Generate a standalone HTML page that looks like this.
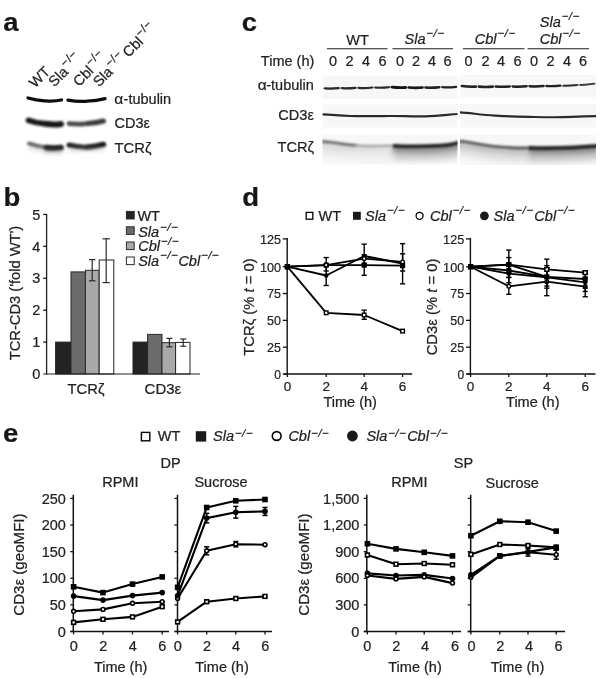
<!DOCTYPE html>
<html lang="en"><head><meta charset="utf-8"><title>Figure</title>
<style>
html,body{margin:0;padding:0;background:#fff;}
svg{display:block;}
text{font-family:"Liberation Sans",sans-serif;fill:#222;stroke:#222;stroke-width:0.22px;}
.pl{font-weight:bold;font-size:25px;fill:#161616;}
.it{font-style:italic;}
</style></head><body>
<svg width="600" height="678" viewBox="0 0 600 678">
<defs>
<filter id="b1" filterUnits="userSpaceOnUse" x="0" y="0" width="600" height="678"><feGaussianBlur stdDeviation="0.9"/></filter>
<filter id="b13" filterUnits="userSpaceOnUse" x="0" y="0" width="600" height="678"><feGaussianBlur stdDeviation="1.3 1.1"/></filter>
<filter id="b05" filterUnits="userSpaceOnUse" x="0" y="0" width="600" height="678"><feGaussianBlur stdDeviation="0.6"/></filter>
<filter id="b08" filterUnits="userSpaceOnUse" x="0" y="0" width="600" height="678"><feGaussianBlur stdDeviation="0.75"/></filter>
<filter id="b3" filterUnits="userSpaceOnUse" x="0" y="0" width="600" height="678"><feGaussianBlur stdDeviation="3"/></filter>
<filter id="b2" filterUnits="userSpaceOnUse" x="0" y="0" width="600" height="678"><feGaussianBlur stdDeviation="2.2"/></filter>
<filter id="b4" filterUnits="userSpaceOnUse" x="0" y="0" width="600" height="678"><feGaussianBlur stdDeviation="4"/></filter>
<filter id="bg" filterUnits="userSpaceOnUse" x="0" y="0" width="600" height="678"><feGaussianBlur stdDeviation="1"/></filter>
</defs>
<rect width="600" height="678" fill="#fff"/>

<text class="pl" transform="translate(3.2,31) scale(1.1,1)">a</text>
<text class="pl" transform="translate(3.6,206) scale(1.1,1)">b</text>
<text class="pl" transform="translate(241.8,31) scale(1.1,1)">c</text>
<text class="pl" transform="translate(242.2,206) scale(1.1,1)">d</text>
<text class="pl" transform="translate(3,442) scale(1.1,1)">e</text>
<text font-size="14.5" transform="translate(35,88.5) rotate(-45)">WT</text>
<text font-size="14.5" transform="translate(54.3,87.5) rotate(-45)"><tspan>Sla</tspan><tspan dy="-6.6" dx="0.8" font-size="11.5" letter-spacing="0.5">−/−</tspan></text>
<text font-size="14.5" transform="translate(79,87.2) rotate(-45)"><tspan>Cbl</tspan><tspan dy="-6.6" dx="0.8" font-size="11.5" letter-spacing="0.5">−/−</tspan></text>
<text font-size="14.5" transform="translate(99,87.6) rotate(-45)"><tspan>Sla</tspan><tspan dy="-6.6" dx="0.8" font-size="11.5" letter-spacing="0.5">−/−</tspan><tspan dy="6.6" font-size="7"> </tspan><tspan>Cbl</tspan><tspan dy="-6.6" dx="0.8" font-size="11.5" letter-spacing="0.5">−/−</tspan></text>
<g fill="none" stroke-linecap="round">
<g filter="url(#b08)" stroke="#101010" stroke-width="3.3">
<path d="M28,98 Q36,100.3 44.5,100.8"/>
<path d="M46,100.9 Q54,101.6 61.5,100"/>
<path d="M68,100.2 Q77,101.8 85.5,101.3"/>
<path d="M87,101.2 Q97,100.8 105,98.6"/>
</g>
<g filter="url(#b1)">
<path d="M28.5,120.3 Q36,123 44.5,123.6" stroke="#161616" stroke-width="5.6"/>
<path d="M46,123.8 Q54,125.2 61,124" stroke="#121212" stroke-width="6"/>
<path d="M69,123.6 Q77,124.4 85,123.8" stroke="#4a4a4a" stroke-width="4.8"/>
<path d="M87.5,123.4 Q96,123 103.5,121" stroke="#3a3a3a" stroke-width="5"/>
</g>
<g filter="url(#b1)">
<path d="M29,143.5 Q36,146 44,147" stroke="#6a6a6a" stroke-width="4"/>
<path d="M46,147.6 Q54,148.6 61,147.6" stroke="#1a1a1a" stroke-width="5.6"/>
<path d="M69,145 Q77,147 85,147.2" stroke="#222" stroke-width="5"/>
<path d="M87,147.2 Q96,146.6 103.5,144.4" stroke="#161616" stroke-width="5.4"/>
</g>
<g filter="url(#b2)" opacity="0.55">
<path d="M46,151 L61,151" stroke="#777" stroke-width="4"/>
<path d="M30,148 L44,150" stroke="#aaa" stroke-width="3"/>
<path d="M70,150 L103,149" stroke="#aaa" stroke-width="3"/>
</g>
</g>
<text x="114.3" y="103.5" font-size="14.5" text-anchor="start" textLength="9" lengthAdjust="spacingAndGlyphs">α</text>
<text x="123.6" y="103.5" font-size="14.5" text-anchor="start" >-tubulin</text>
<text x="114.4" y="128.3" font-size="14.5" text-anchor="start" textLength="35.6" lengthAdjust="spacingAndGlyphs">CD3ε</text>
<text x="114.6" y="153.2" font-size="14.5" text-anchor="start" textLength="36.8" lengthAdjust="spacingAndGlyphs">TCRζ</text>
<text x="357.5" y="44.5" font-size="14.5" text-anchor="middle" >WT</text>
<text x="404.6" y="44.3" font-size="14.5" text-anchor="start" ><tspan font-style="italic">Sla</tspan><tspan dy="-7" dx="0.8" font-size="11.5" letter-spacing="0.5" font-style="italic">−/−</tspan></text>
<text x="474.8" y="44.3" font-size="14.5" text-anchor="start" ><tspan font-style="italic">Cbl</tspan><tspan dy="-7" dx="0.8" font-size="11.5" letter-spacing="0.5" font-style="italic">−/−</tspan></text>
<text x="539.8" y="27.4" font-size="14.5" text-anchor="start" ><tspan font-style="italic">Sla</tspan><tspan dy="-7" dx="0.8" font-size="11.5" letter-spacing="0.5" font-style="italic">−/−</tspan></text>
<text x="539.8" y="44.3" font-size="14.5" text-anchor="start" ><tspan font-style="italic">Cbl</tspan><tspan dy="-7" dx="0.8" font-size="11.5" letter-spacing="0.5" font-style="italic">−/−</tspan></text>
<line x1="327" y1="48.8" x2="387.5" y2="48.8" stroke="#1c1c1c" stroke-width="1.1" />
<line x1="392.5" y1="48.8" x2="453" y2="48.8" stroke="#1c1c1c" stroke-width="1.1" />
<line x1="463" y1="48.8" x2="524.5" y2="48.8" stroke="#1c1c1c" stroke-width="1.1" />
<line x1="527.5" y1="48.8" x2="589" y2="48.8" stroke="#1c1c1c" stroke-width="1.1" />
<text x="314.3" y="65.6" font-size="14.5" text-anchor="end" >Time (h)</text>
<text x="333" y="65.5" font-size="14.5" text-anchor="middle" >0</text>
<text x="349.5" y="65.5" font-size="14.5" text-anchor="middle" >2</text>
<text x="366" y="65.5" font-size="14.5" text-anchor="middle" >4</text>
<text x="382.5" y="65.5" font-size="14.5" text-anchor="middle" >6</text>
<text x="400" y="65.5" font-size="14.5" text-anchor="middle" >0</text>
<text x="416" y="65.5" font-size="14.5" text-anchor="middle" >2</text>
<text x="432" y="65.5" font-size="14.5" text-anchor="middle" >4</text>
<text x="447.5" y="65.5" font-size="14.5" text-anchor="middle" >6</text>
<text x="468.5" y="65.5" font-size="14.5" text-anchor="middle" >0</text>
<text x="485.5" y="65.5" font-size="14.5" text-anchor="middle" >2</text>
<text x="501" y="65.5" font-size="14.5" text-anchor="middle" >4</text>
<text x="517.5" y="65.5" font-size="14.5" text-anchor="middle" >6</text>
<text x="534" y="65.5" font-size="14.5" text-anchor="middle" >0</text>
<text x="550.5" y="65.5" font-size="14.5" text-anchor="middle" >2</text>
<text x="567" y="65.5" font-size="14.5" text-anchor="middle" >4</text>
<text x="583" y="65.5" font-size="14.5" text-anchor="middle" >6</text>
<text x="257.8" y="90" font-size="14.5" text-anchor="start" textLength="9" lengthAdjust="spacingAndGlyphs">α</text>
<text x="313.8" y="90" font-size="14.5" text-anchor="end" >-tubulin</text>
<text x="278.3" y="120" font-size="14.5" text-anchor="start" textLength="35.6" lengthAdjust="spacingAndGlyphs">CD3ε</text>
<text x="277.6" y="152" font-size="14.5" text-anchor="start" textLength="36.4" lengthAdjust="spacingAndGlyphs">TCRζ</text>
<defs>
<clipPath id="cp0"><rect x="322.5" y="75.5" width="135" height="23.5"/></clipPath>
<clipPath id="cp1"><rect x="460" y="75" width="136" height="22.5"/></clipPath>
<clipPath id="cp2"><rect x="322.5" y="104.5" width="135" height="23"/></clipPath>
<clipPath id="cp3"><rect x="460" y="104" width="136" height="23.5"/></clipPath>
<clipPath id="cp4"><rect x="322.5" y="134.5" width="135" height="30"/></clipPath>
<clipPath id="cp5"><rect x="460" y="135" width="136" height="30"/></clipPath>
</defs>
<g fill="#f7f7f7" filter="url(#b05)">
<rect x="322.5" y="75.5" width="135" height="23.5"/>
<rect x="460" y="75" width="136" height="22.5"/>
<rect x="322.5" y="104.5" width="135" height="23"/>
<rect x="460" y="104" width="136" height="23.5"/>
<rect x="322.5" y="134.5" width="135" height="30"/>
<rect x="460" y="135" width="136" height="30"/>
</g>
<g fill="none" stroke-linecap="round">
<g clip-path="url(#cp0)"><g filter="url(#b08)">
<polyline points="323.5,88.3 340.2,88.1 357.0,87.8 373.8,87.5 390.5,87.2 407.2,87.5 424.0,87.5 440.8,87.2 457.5,86.8" stroke="#9a9a9a" stroke-width="1.3"/>
<path d="M325.1,88.3 Q331.9,88.9 338.6,88.1" stroke="#2a2a2a" stroke-width="2.3"/>
<path d="M341.9,88.1 Q348.6,88.6 355.4,87.8" stroke="#2a2a2a" stroke-width="2.2"/>
<path d="M358.6,87.8 Q365.4,88.4 372.1,87.5" stroke="#2a2a2a" stroke-width="2.2"/>
<path d="M375.4,87.5 Q382.1,88.0 388.9,87.2" stroke="#2a2a2a" stroke-width="2.1"/>
<path d="M392.1,87.2 Q398.9,88.0 405.6,87.5" stroke="#141414" stroke-width="2.8"/>
<path d="M408.9,87.5 Q415.6,88.2 422.4,87.5" stroke="#141414" stroke-width="2.6"/>
<path d="M425.6,87.5 Q432.4,88.0 439.1,87.2" stroke="#242424" stroke-width="2.4"/>
<path d="M442.4,87.2 Q449.1,87.7 455.9,86.8" stroke="#242424" stroke-width="2.3"/>
</g></g>
<g clip-path="url(#cp1)"><g filter="url(#b08)">
<polyline points="460.5,86.0 477.4,86.6 494.3,86.6 511.2,86.4 528.1,86.2 545.0,86.0 561.9,85.7 578.8,85.0 595.7,83.6" stroke="#9a9a9a" stroke-width="1.3"/>
<path d="M462.1,86.0 Q468.9,87.0 475.8,86.6" stroke="#222" stroke-width="2.6"/>
<path d="M479.0,86.6 Q485.9,87.3 492.7,86.6" stroke="#222" stroke-width="2.6"/>
<path d="M495.9,86.6 Q502.8,87.2 509.6,86.4" stroke="#222" stroke-width="2.5"/>
<path d="M512.8,86.4 Q519.6,87.0 526.5,86.2" stroke="#222" stroke-width="2.5"/>
<path d="M529.7,86.2 Q536.5,86.8 543.4,86.0" stroke="#222" stroke-width="2.5"/>
<path d="M546.6,86.0 Q553.5,86.5 560.3,85.7" stroke="#222" stroke-width="2.3"/>
<path d="M563.5,85.7 Q570.3,86.0 577.2,85.0" stroke="#333" stroke-width="2.0"/>
<path d="M580.4,85.0 Q587.2,85.0 594.1,83.6" stroke="#3a3a3a" stroke-width="1.9"/>
</g></g>
<g filter="url(#b08)" stroke="#2c2c2c" stroke-width="2.2">
<path clip-path="url(#cp2)" d="M323,114.3 C332,114.4 338,115.6 350,116 S372,116.2 388,116 S410,116.8 425,116.3 S448,114.6 458,114"/>
<path clip-path="url(#cp3)" d="M460,112.4 C470,112.8 480,114.8 495,115.6 S520,116.6 535,117 S560,117.4 572,116.9 S590,116.3 597,116.2"/>
</g>
<g stroke-linecap="butt">
<g clip-path="url(#cp4)">
<path d="M320,141.6 C333,141.8 342,144.6 357,145.6" transform="translate(0,8.5)" stroke="#e8e8e8" stroke-width="9" filter="url(#b3)"/>
<path d="M320,141.6 C333,141.8 342,144.6 357,145.6" transform="translate(0,3.6)" stroke="#d6d6d6" stroke-width="5.5" filter="url(#b2)"/>
<path d="M320,141.6 C333,141.8 342,144.6 357,145.6" stroke="#707070" stroke-width="3.0" filter="url(#b13)"/>
</g>
<g clip-path="url(#cp4)">
<path d="M356,145.6 C368,146.4 380,146.2 394,145.7" transform="translate(0,8.5)" stroke="#ebebeb" stroke-width="9" filter="url(#b3)"/>
<path d="M356,145.6 C368,146.4 380,146.2 394,145.7" transform="translate(0,3.6)" stroke="#dedede" stroke-width="5.5" filter="url(#b2)"/>
<path d="M356,145.6 C368,146.4 380,146.2 394,145.7" stroke="#a8a8a8" stroke-width="2.6" filter="url(#b13)"/>
</g>
<g clip-path="url(#cp4)">
<path d="M393,145.9 C410,146.8 425,146.8 440,145.8 S452,144 460,142.6" transform="translate(0,8.5)" stroke="#c2c2c2" stroke-width="9" filter="url(#b3)"/>
<path d="M393,145.9 C410,146.8 425,146.8 440,145.8 S452,144 460,142.6" transform="translate(0,3.6)" stroke="#8c8c8c" stroke-width="5.5" filter="url(#b2)"/>
<path d="M393,145.9 C410,146.8 425,146.8 440,145.8 S452,144 460,142.6" stroke="#262626" stroke-width="4.0" filter="url(#b13)"/>
</g>
<g clip-path="url(#cp5)">
<path d="M457,141 C470,141.8 480,145.4 500,147 S520,148 531,148.2" transform="translate(0,8.5)" stroke="#dadada" stroke-width="9" filter="url(#b3)"/>
<path d="M457,141 C470,141.8 480,145.4 500,147 S520,148 531,148.2" transform="translate(0,3.6)" stroke="#bcbcbc" stroke-width="5.5" filter="url(#b2)"/>
<path d="M457,141 C470,141.8 480,145.4 500,147 S520,148 531,148.2" stroke="#5e5e5e" stroke-width="3.2" filter="url(#b13)"/>
</g>
<g clip-path="url(#cp5)">
<path d="M529,148.2 C545,148.6 560,148.4 575,147.6 S590,146.4 599,146" transform="translate(0,8.5)" stroke="#c2c2c2" stroke-width="9" filter="url(#b3)"/>
<path d="M529,148.2 C545,148.6 560,148.4 575,147.6 S590,146.4 599,146" transform="translate(0,3.6)" stroke="#8c8c8c" stroke-width="5.5" filter="url(#b2)"/>
<path d="M529,148.2 C545,148.6 560,148.4 575,147.6 S590,146.4 599,146" stroke="#262626" stroke-width="4.2" filter="url(#b13)"/>
</g>
</g>
</g>
<rect x="55.6" y="342.1" width="15.4" height="31.9" fill="#232323" stroke="#232323" stroke-width="1"/>
<rect x="71.0" y="271.9" width="14.4" height="102.1" fill="#6b6b6b" stroke="#2a2a2a" stroke-width="1"/>
<rect x="85.4" y="270.3" width="13.8" height="103.7" fill="#a9a9a9" stroke="#2a2a2a" stroke-width="1"/>
<rect x="99.2" y="260.0" width="14.6" height="114.0" fill="#ffffff" stroke="#222" stroke-width="1"/>
<rect x="133.0" y="342.1" width="14.6" height="31.9" fill="#232323" stroke="#232323" stroke-width="1"/>
<rect x="147.6" y="334.4" width="14.4" height="39.6" fill="#6b6b6b" stroke="#2a2a2a" stroke-width="1"/>
<rect x="162.0" y="342.7" width="13.6" height="31.3" fill="#a9a9a9" stroke="#2a2a2a" stroke-width="1"/>
<rect x="175.6" y="342.4" width="14.4" height="31.6" fill="#ffffff" stroke="#222" stroke-width="1"/>
<line x1="92.2" y1="259.6" x2="92.2" y2="280.8" stroke="#2a2a2a" stroke-width="1.2" />
<line x1="89.0" y1="259.6" x2="95.4" y2="259.6" stroke="#2a2a2a" stroke-width="1.2" />
<line x1="89.0" y1="280.8" x2="95.4" y2="280.8" stroke="#2a2a2a" stroke-width="1.2" />
<line x1="106.2" y1="238.8" x2="106.2" y2="282.6" stroke="#2a2a2a" stroke-width="1.2" />
<line x1="102.60000000000001" y1="238.8" x2="109.8" y2="238.8" stroke="#2a2a2a" stroke-width="1.2" />
<line x1="102.60000000000001" y1="282.6" x2="109.8" y2="282.6" stroke="#2a2a2a" stroke-width="1.2" />
<line x1="169.4" y1="338.4" x2="169.4" y2="346.8" stroke="#2a2a2a" stroke-width="1.2" />
<line x1="166.4" y1="338.4" x2="172.4" y2="338.4" stroke="#2a2a2a" stroke-width="1.2" />
<line x1="166.4" y1="346.8" x2="172.4" y2="346.8" stroke="#2a2a2a" stroke-width="1.2" />
<line x1="183.2" y1="339" x2="183.2" y2="346.2" stroke="#2a2a2a" stroke-width="1.2" />
<line x1="180.2" y1="339" x2="186.2" y2="339" stroke="#2a2a2a" stroke-width="1.2" />
<line x1="180.2" y1="346.2" x2="186.2" y2="346.2" stroke="#2a2a2a" stroke-width="1.2" />
<line x1="46.6" y1="214" x2="46.6" y2="374.6" stroke="#1c1c1c" stroke-width="1.3" />
<line x1="43.2" y1="374.0" x2="200" y2="374.0" stroke="#222" stroke-width="1.2" />
<line x1="43.2" y1="342.08" x2="46.6" y2="342.08" stroke="#161616" stroke-width="1.3" />
<text x="40.4" y="347.28" font-size="14.5" text-anchor="end" >1</text>
<line x1="43.2" y1="310.15999999999997" x2="46.6" y2="310.15999999999997" stroke="#161616" stroke-width="1.3" />
<text x="40.4" y="315.35999999999996" font-size="14.5" text-anchor="end" >2</text>
<line x1="43.2" y1="278.24" x2="46.6" y2="278.24" stroke="#161616" stroke-width="1.3" />
<text x="40.4" y="283.44" font-size="14.5" text-anchor="end" >3</text>
<line x1="43.2" y1="246.32" x2="46.6" y2="246.32" stroke="#161616" stroke-width="1.3" />
<text x="40.4" y="251.51999999999998" font-size="14.5" text-anchor="end" >4</text>
<line x1="43.2" y1="214.39999999999998" x2="46.6" y2="214.39999999999998" stroke="#161616" stroke-width="1.3" />
<text x="40.4" y="219.59999999999997" font-size="14.5" text-anchor="end" >5</text>
<text x="40.4" y="379.4" font-size="14.5" text-anchor="end" >0</text>
<text font-size="14.7" text-anchor="middle" transform="translate(19.9,293) rotate(-90)">TCR-CD3 ('fold WT')</text>
<text x="67.6" y="394.4" font-size="14.5" text-anchor="start" textLength="36.8" lengthAdjust="spacingAndGlyphs">TCRζ</text>
<text x="144.6" y="394.4" font-size="14.5" text-anchor="start" textLength="36.6" lengthAdjust="spacingAndGlyphs">CD3ε</text>
<rect x="126.4" y="211.4" width="7.8" height="7.6" fill="#232323" stroke="#2a2a2a" stroke-width="1"/>
<rect x="126.4" y="226.8" width="7.8" height="7.6" fill="#6b6b6b" stroke="#2a2a2a" stroke-width="1"/>
<rect x="126.4" y="242" width="7.8" height="7.6" fill="#a9a9a9" stroke="#2a2a2a" stroke-width="1"/>
<rect x="126.4" y="257" width="7.8" height="7.6" fill="#fff" stroke="#2a2a2a" stroke-width="1"/>
<text x="137.4" y="220.9" font-size="14.5" text-anchor="start" >WT</text>
<text x="138.2" y="236.8" font-size="14.5" text-anchor="start" ><tspan font-style="italic">Sla</tspan><tspan dy="-6.3" dx="0.8" font-size="11.5" letter-spacing="0.5" font-style="italic">−/−</tspan></text>
<text x="138.2" y="251.2" font-size="14.5" text-anchor="start" ><tspan font-style="italic">Cbl</tspan><tspan dy="-6.3" dx="0.8" font-size="11.5" letter-spacing="0.5" font-style="italic">−/−</tspan></text>
<text x="138.2" y="265.6" font-size="14.5" text-anchor="start" ><tspan font-style="italic">Sla</tspan><tspan dy="-6.3" dx="0.8" font-size="11.5" letter-spacing="0.5" font-style="italic">−/−</tspan><tspan dy="6.3" font-size="1"> </tspan><tspan font-style="italic">Cbl</tspan><tspan dy="-6.3" dx="0.8" font-size="11.5" letter-spacing="0.5" font-style="italic">−/−</tspan></text>
<rect x="306.2" y="212.4" width="6.6" height="6.8" fill="#fff" stroke="#000" stroke-width="1.3"/>
<text x="318.6" y="220.5" font-size="14.5" text-anchor="start" >WT</text>
<rect x="353" y="211.8" width="7.8" height="8" fill="#1a1a1a"/>
<text x="365" y="220.5" font-size="14.5" text-anchor="start" ><tspan font-style="italic">Sla</tspan><tspan dy="-6.3" dx="0.8" font-size="11.5" letter-spacing="0.5" font-style="italic">−/−</tspan></text>
<circle cx="419.6" cy="215.8" r="3.5" fill="#fff" stroke="#000" stroke-width="1.3"/>
<text x="430" y="220.5" font-size="14.5" text-anchor="start" ><tspan font-style="italic">Cbl</tspan><tspan dy="-6.3" dx="0.8" font-size="11.5" letter-spacing="0.5" font-style="italic">−/−</tspan></text>
<circle cx="484.4" cy="215.8" r="4.4" fill="#1a1a1a"/>
<text x="493.6" y="220.5" font-size="14.5" text-anchor="start" ><tspan font-style="italic">Sla</tspan><tspan dy="-6.3" dx="0.8" font-size="11.5" letter-spacing="0.5" font-style="italic">−/−</tspan><tspan dy="6.3" font-size="3"> </tspan><tspan font-style="italic">Cbl</tspan><tspan dy="-6.3" dx="0.8" font-size="11.5" letter-spacing="0.5" font-style="italic">−/−</tspan></text>
<line x1="287.2" y1="237.9" x2="287.2" y2="374.6" stroke="#111" stroke-width="1.4" />
<line x1="283.8" y1="374.0" x2="412.2" y2="374.0" stroke="#111" stroke-width="1.4" />
<line x1="282.8" y1="374.0" x2="287.2" y2="374.0" stroke="#111" stroke-width="1.3" />
<text x="281.0" y="378.8" font-size="13.5" text-anchor="end" textLength="6.7" lengthAdjust="spacingAndGlyphs">0</text>
<line x1="282.8" y1="347.175" x2="287.2" y2="347.175" stroke="#111" stroke-width="1.3" />
<text x="281.0" y="351.975" font-size="13.5" text-anchor="end" textLength="13.9" lengthAdjust="spacingAndGlyphs">25</text>
<line x1="282.8" y1="320.35" x2="287.2" y2="320.35" stroke="#111" stroke-width="1.3" />
<text x="281.0" y="325.15000000000003" font-size="13.5" text-anchor="end" textLength="13.9" lengthAdjust="spacingAndGlyphs">50</text>
<line x1="282.8" y1="293.525" x2="287.2" y2="293.525" stroke="#111" stroke-width="1.3" />
<text x="281.0" y="298.325" font-size="13.5" text-anchor="end" textLength="13.9" lengthAdjust="spacingAndGlyphs">75</text>
<line x1="282.8" y1="266.7" x2="287.2" y2="266.7" stroke="#111" stroke-width="1.3" />
<text x="281.0" y="271.5" font-size="13.5" text-anchor="end" textLength="21.1" lengthAdjust="spacingAndGlyphs">100</text>
<line x1="282.8" y1="238.9" x2="287.2" y2="238.9" stroke="#111" stroke-width="1.3" />
<text x="281.0" y="243.70000000000002" font-size="13.5" text-anchor="end" textLength="21.1" lengthAdjust="spacingAndGlyphs">125</text>
<line x1="287.4" y1="374.0" x2="287.4" y2="377.0" stroke="#111" stroke-width="1.3" />
<text x="287.4" y="391" font-size="13.5" text-anchor="middle" >0</text>
<line x1="326.2" y1="374.0" x2="326.2" y2="377.0" stroke="#111" stroke-width="1.3" />
<text x="326.2" y="391" font-size="13.5" text-anchor="middle" >2</text>
<line x1="364.2" y1="374.0" x2="364.2" y2="377.0" stroke="#111" stroke-width="1.3" />
<text x="364.2" y="391" font-size="13.5" text-anchor="middle" >4</text>
<line x1="402.6" y1="374.0" x2="402.6" y2="377.0" stroke="#111" stroke-width="1.3" />
<text x="402.6" y="391" font-size="13.5" text-anchor="middle" >6</text>
<text x="350.2" y="407" font-size="14.5" text-anchor="middle" >Time (h)</text>
<text font-size="14.8" text-anchor="middle" transform="translate(253.6,307) rotate(-90)">TCRζ (% <tspan font-style="italic">t</tspan> = 0)</text>
<polyline points="287.4,266.7 326.2,265.1 364.2,265.1 402.6,265.6" fill="none" stroke="#000" stroke-width="1.8" stroke-linejoin="round"/>
<line x1="364.2" y1="275.284" x2="364.2" y2="254.897" stroke="#000" stroke-width="1.4" />
<line x1="361.59999999999997" y1="275.284" x2="366.8" y2="275.284" stroke="#000" stroke-width="1.4" />
<line x1="361.59999999999997" y1="254.897" x2="366.8" y2="254.897" stroke="#000" stroke-width="1.4" />
<line x1="402.6" y1="283.868" x2="402.6" y2="243.63049999999998" stroke="#000" stroke-width="1.4" />
<line x1="400.0" y1="283.868" x2="405.20000000000005" y2="283.868" stroke="#000" stroke-width="1.4" />
<line x1="400.0" y1="243.63049999999998" x2="405.20000000000005" y2="243.63049999999998" stroke="#000" stroke-width="1.4" />
<rect x="284.8" y="264.1" width="5.2" height="5.2" fill="#000"/>
<rect x="323.6" y="262.5" width="5.2" height="5.2" fill="#000"/>
<rect x="361.6" y="262.5" width="5.2" height="5.2" fill="#000"/>
<rect x="400.0" y="263.0" width="5.2" height="5.2" fill="#000"/>
<polyline points="287.4,266.7 326.2,275.5 364.2,256.0 402.6,263.5" fill="none" stroke="#000" stroke-width="1.8" stroke-linejoin="round"/>
<line x1="326.2" y1="285.47749999999996" x2="326.2" y2="266.1635" stroke="#000" stroke-width="1.4" />
<line x1="323.59999999999997" y1="285.47749999999996" x2="328.8" y2="285.47749999999996" stroke="#000" stroke-width="1.4" />
<line x1="323.59999999999997" y1="266.1635" x2="328.8" y2="266.1635" stroke="#000" stroke-width="1.4" />
<line x1="364.2" y1="263.481" x2="364.2" y2="244.167" stroke="#000" stroke-width="1.4" />
<line x1="361.59999999999997" y1="263.481" x2="366.8" y2="263.481" stroke="#000" stroke-width="1.4" />
<line x1="361.59999999999997" y1="244.167" x2="366.8" y2="244.167" stroke="#000" stroke-width="1.4" />
<line x1="402.6" y1="270.99199999999996" x2="402.6" y2="253.82399999999998" stroke="#000" stroke-width="1.4" />
<line x1="400.0" y1="270.99199999999996" x2="405.20000000000005" y2="270.99199999999996" stroke="#000" stroke-width="1.4" />
<line x1="400.0" y1="253.82399999999998" x2="405.20000000000005" y2="253.82399999999998" stroke="#000" stroke-width="1.4" />
<circle cx="287.4" cy="266.7" r="2.3" fill="#000"/>
<circle cx="326.2" cy="275.5" r="2.3" fill="#000"/>
<circle cx="364.2" cy="256.0" r="2.3" fill="#000"/>
<circle cx="402.6" cy="263.5" r="2.3" fill="#000"/>
<polyline points="287.4,266.7 326.2,265.1 364.2,258.7 402.6,261.9" fill="none" stroke="#000" stroke-width="1.8" stroke-linejoin="round"/>
<line x1="326.2" y1="270.99199999999996" x2="326.2" y2="257.5795" stroke="#000" stroke-width="1.4" />
<line x1="323.59999999999997" y1="270.99199999999996" x2="328.8" y2="270.99199999999996" stroke="#000" stroke-width="1.4" />
<line x1="323.59999999999997" y1="257.5795" x2="328.8" y2="257.5795" stroke="#000" stroke-width="1.4" />
<circle cx="287.4" cy="266.7" r="1.8" fill="#fff" stroke="#000" stroke-width="1.4"/>
<circle cx="326.2" cy="265.1" r="1.8" fill="#fff" stroke="#000" stroke-width="1.4"/>
<circle cx="364.2" cy="258.7" r="1.8" fill="#fff" stroke="#000" stroke-width="1.4"/>
<circle cx="402.6" cy="261.9" r="1.8" fill="#fff" stroke="#000" stroke-width="1.4"/>
<polyline points="287.4,266.7 326.2,312.8 364.2,315.0 402.6,331.1" fill="none" stroke="#000" stroke-width="1.8" stroke-linejoin="round"/>
<line x1="364.2" y1="319.277" x2="364.2" y2="310.1565" stroke="#000" stroke-width="1.4" />
<line x1="361.59999999999997" y1="319.277" x2="366.8" y2="319.277" stroke="#000" stroke-width="1.4" />
<line x1="361.59999999999997" y1="310.1565" x2="366.8" y2="310.1565" stroke="#000" stroke-width="1.4" />
<rect x="285.6" y="264.9" width="3.6" height="3.6" fill="#fff" stroke="#000" stroke-width="1.4"/>
<rect x="324.4" y="311.0" width="3.6" height="3.6" fill="#fff" stroke="#000" stroke-width="1.4"/>
<rect x="362.4" y="313.2" width="3.6" height="3.6" fill="#fff" stroke="#000" stroke-width="1.4"/>
<rect x="400.8" y="329.3" width="3.6" height="3.6" fill="#fff" stroke="#000" stroke-width="1.4"/>
<rect x="284.8" y="264.1" width="5.2" height="5.2" fill="#000"/>
<line x1="470.4" y1="237.9" x2="470.4" y2="374.6" stroke="#111" stroke-width="1.4" />
<line x1="467.0" y1="374.0" x2="595.4" y2="374.0" stroke="#111" stroke-width="1.4" />
<line x1="466.0" y1="374.0" x2="470.4" y2="374.0" stroke="#111" stroke-width="1.3" />
<text x="464.2" y="378.8" font-size="13.5" text-anchor="end" textLength="6.7" lengthAdjust="spacingAndGlyphs">0</text>
<line x1="466.0" y1="347.175" x2="470.4" y2="347.175" stroke="#111" stroke-width="1.3" />
<text x="464.2" y="351.975" font-size="13.5" text-anchor="end" textLength="13.9" lengthAdjust="spacingAndGlyphs">25</text>
<line x1="466.0" y1="320.35" x2="470.4" y2="320.35" stroke="#111" stroke-width="1.3" />
<text x="464.2" y="325.15000000000003" font-size="13.5" text-anchor="end" textLength="13.9" lengthAdjust="spacingAndGlyphs">50</text>
<line x1="466.0" y1="293.525" x2="470.4" y2="293.525" stroke="#111" stroke-width="1.3" />
<text x="464.2" y="298.325" font-size="13.5" text-anchor="end" textLength="13.9" lengthAdjust="spacingAndGlyphs">75</text>
<line x1="466.0" y1="266.7" x2="470.4" y2="266.7" stroke="#111" stroke-width="1.3" />
<text x="464.2" y="271.5" font-size="13.5" text-anchor="end" textLength="21.1" lengthAdjust="spacingAndGlyphs">100</text>
<line x1="466.0" y1="238.9" x2="470.4" y2="238.9" stroke="#111" stroke-width="1.3" />
<text x="464.2" y="243.70000000000002" font-size="13.5" text-anchor="end" textLength="21.1" lengthAdjust="spacingAndGlyphs">125</text>
<line x1="470.6" y1="374.0" x2="470.6" y2="377.0" stroke="#111" stroke-width="1.3" />
<text x="470.6" y="391" font-size="13.5" text-anchor="middle" >0</text>
<line x1="508.8" y1="374.0" x2="508.8" y2="377.0" stroke="#111" stroke-width="1.3" />
<text x="508.8" y="391" font-size="13.5" text-anchor="middle" >2</text>
<line x1="546.8" y1="374.0" x2="546.8" y2="377.0" stroke="#111" stroke-width="1.3" />
<text x="546.8" y="391" font-size="13.5" text-anchor="middle" >4</text>
<line x1="585.2" y1="374.0" x2="585.2" y2="377.0" stroke="#111" stroke-width="1.3" />
<text x="585.2" y="391" font-size="13.5" text-anchor="middle" >6</text>
<text x="532.8" y="407" font-size="14.5" text-anchor="middle" >Time (h)</text>
<text font-size="14.8" text-anchor="middle" transform="translate(436.79999999999995,307) rotate(-90)">CD3ε (% <tspan font-style="italic">t</tspan> = 0)</text>
<polyline points="470.6,266.7 508.8,286.3 546.8,281.7 585.2,286.6" fill="none" stroke="#000" stroke-width="1.8" stroke-linejoin="round"/>
<line x1="508.8" y1="294.2761" x2="508.8" y2="277.42999999999995" stroke="#000" stroke-width="1.4" />
<line x1="506.2" y1="294.2761" x2="511.40000000000003" y2="294.2761" stroke="#000" stroke-width="1.4" />
<line x1="506.2" y1="277.42999999999995" x2="511.40000000000003" y2="277.42999999999995" stroke="#000" stroke-width="1.4" />
<line x1="546.8" y1="295.671" x2="546.8" y2="267.773" stroke="#000" stroke-width="1.4" />
<line x1="544.1999999999999" y1="295.671" x2="549.4" y2="295.671" stroke="#000" stroke-width="1.4" />
<line x1="544.1999999999999" y1="267.773" x2="549.4" y2="267.773" stroke="#000" stroke-width="1.4" />
<line x1="585.2" y1="296.744" x2="585.2" y2="277.42999999999995" stroke="#000" stroke-width="1.4" />
<line x1="582.6" y1="296.744" x2="587.8000000000001" y2="296.744" stroke="#000" stroke-width="1.4" />
<line x1="582.6" y1="277.42999999999995" x2="587.8000000000001" y2="277.42999999999995" stroke="#000" stroke-width="1.4" />
<circle cx="470.6" cy="266.7" r="1.8" fill="#fff" stroke="#000" stroke-width="1.4"/>
<circle cx="508.8" cy="286.3" r="1.8" fill="#fff" stroke="#000" stroke-width="1.4"/>
<circle cx="546.8" cy="281.7" r="1.8" fill="#fff" stroke="#000" stroke-width="1.4"/>
<circle cx="585.2" cy="286.6" r="1.8" fill="#fff" stroke="#000" stroke-width="1.4"/>
<polyline points="470.6,266.7 508.8,264.6 546.8,269.4 585.2,272.6" fill="none" stroke="#000" stroke-width="1.8" stroke-linejoin="round"/>
<line x1="508.8" y1="272.065" x2="508.8" y2="257.5795" stroke="#000" stroke-width="1.4" />
<line x1="506.2" y1="272.065" x2="511.40000000000003" y2="272.065" stroke="#000" stroke-width="1.4" />
<line x1="506.2" y1="257.5795" x2="511.40000000000003" y2="257.5795" stroke="#000" stroke-width="1.4" />
<line x1="546.8" y1="277.42999999999995" x2="546.8" y2="259.18899999999996" stroke="#000" stroke-width="1.4" />
<line x1="544.1999999999999" y1="277.42999999999995" x2="549.4" y2="277.42999999999995" stroke="#000" stroke-width="1.4" />
<line x1="544.1999999999999" y1="259.18899999999996" x2="549.4" y2="259.18899999999996" stroke="#000" stroke-width="1.4" />
<rect x="468.8" y="264.9" width="3.6" height="3.6" fill="#fff" stroke="#000" stroke-width="1.4"/>
<rect x="507.0" y="262.8" width="3.6" height="3.6" fill="#fff" stroke="#000" stroke-width="1.4"/>
<rect x="545.0" y="267.6" width="3.6" height="3.6" fill="#fff" stroke="#000" stroke-width="1.4"/>
<rect x="583.4" y="270.8" width="3.6" height="3.6" fill="#fff" stroke="#000" stroke-width="1.4"/>
<polyline points="470.6,266.7 508.8,270.5 546.8,276.9" fill="none" stroke="#000" stroke-width="1.8"/>
<polyline points="470.6,266.7 508.8,273.7 546.8,277.4 585.2,282.3" fill="none" stroke="#000" stroke-width="1.8" stroke-linejoin="round"/>
<line x1="508.8" y1="282.79499999999996" x2="508.8" y2="264.554" stroke="#000" stroke-width="1.4" />
<line x1="506.2" y1="282.79499999999996" x2="511.40000000000003" y2="282.79499999999996" stroke="#000" stroke-width="1.4" />
<line x1="506.2" y1="264.554" x2="511.40000000000003" y2="264.554" stroke="#000" stroke-width="1.4" />
<line x1="546.8" y1="286.014" x2="546.8" y2="267.773" stroke="#000" stroke-width="1.4" />
<line x1="544.1999999999999" y1="286.014" x2="549.4" y2="286.014" stroke="#000" stroke-width="1.4" />
<line x1="544.1999999999999" y1="267.773" x2="549.4" y2="267.773" stroke="#000" stroke-width="1.4" />
<line x1="585.2" y1="291.379" x2="585.2" y2="274.211" stroke="#000" stroke-width="1.4" />
<line x1="582.6" y1="291.379" x2="587.8000000000001" y2="291.379" stroke="#000" stroke-width="1.4" />
<line x1="582.6" y1="274.211" x2="587.8000000000001" y2="274.211" stroke="#000" stroke-width="1.4" />
<circle cx="470.6" cy="266.7" r="2.3" fill="#000"/>
<circle cx="508.8" cy="273.7" r="2.3" fill="#000"/>
<circle cx="546.8" cy="277.4" r="2.3" fill="#000"/>
<circle cx="585.2" cy="282.3" r="2.3" fill="#000"/>
<rect x="506.2" y="268.1" width="5.2" height="5.2" fill="#000"/>
<polyline points="470.6,266.7 508.8,264.6 546.8,276.9 585.2,279.0" fill="none" stroke="#000" stroke-width="1.8" stroke-linejoin="round"/>
<line x1="508.8" y1="277.42999999999995" x2="508.8" y2="250.06849999999997" stroke="#000" stroke-width="1.4" />
<line x1="506.2" y1="277.42999999999995" x2="511.40000000000003" y2="277.42999999999995" stroke="#000" stroke-width="1.4" />
<line x1="506.2" y1="250.06849999999997" x2="511.40000000000003" y2="250.06849999999997" stroke="#000" stroke-width="1.4" />
<line x1="546.8" y1="288.15999999999997" x2="546.8" y2="265.627" stroke="#000" stroke-width="1.4" />
<line x1="544.1999999999999" y1="288.15999999999997" x2="549.4" y2="288.15999999999997" stroke="#000" stroke-width="1.4" />
<line x1="544.1999999999999" y1="265.627" x2="549.4" y2="265.627" stroke="#000" stroke-width="1.4" />
<line x1="585.2" y1="288.15999999999997" x2="585.2" y2="270.99199999999996" stroke="#000" stroke-width="1.4" />
<line x1="582.6" y1="288.15999999999997" x2="587.8000000000001" y2="288.15999999999997" stroke="#000" stroke-width="1.4" />
<line x1="582.6" y1="270.99199999999996" x2="587.8000000000001" y2="270.99199999999996" stroke="#000" stroke-width="1.4" />
<rect x="468.0" y="264.1" width="5.2" height="5.2" fill="#000"/>
<rect x="506.2" y="262.0" width="5.2" height="5.2" fill="#000"/>
<rect x="544.2" y="274.3" width="5.2" height="5.2" fill="#000"/>
<rect x="582.6" y="276.4" width="5.2" height="5.2" fill="#000"/>
<rect x="545.0" y="267.6" width="3.6" height="3.6" fill="#fff" stroke="#000" stroke-width="1.4"/>
<rect x="583.4" y="270.8" width="3.6" height="3.6" fill="#fff" stroke="#000" stroke-width="1.4"/>
<polyline points="470.6,266.7" fill="none" stroke="#000" stroke-width="1.8" stroke-linejoin="round"/>
<rect x="468.0" y="264.1" width="5.2" height="5.2" fill="#000"/>
<rect x="141.4" y="432.4" width="8.4" height="8.4" fill="#fff" stroke="#000" stroke-width="1.4"/>
<text x="157.8" y="440.7" font-size="14.5" text-anchor="start" >WT</text>
<rect x="195.8" y="431.2" width="10.4" height="10.4" fill="#1a1a1a"/>
<text x="213" y="440.9" font-size="14.5" text-anchor="start" ><tspan font-style="italic">Sla</tspan><tspan dy="-4.3" dx="0.8" font-size="11.5" letter-spacing="0.5" font-style="italic">−/−</tspan></text>
<circle cx="276.7" cy="436" r="4.4" fill="#fff" stroke="#000" stroke-width="1.6"/>
<text x="288.4" y="440.9" font-size="14.5" text-anchor="start" ><tspan font-style="italic">Cbl</tspan><tspan dy="-4.3" dx="0.8" font-size="11.5" letter-spacing="0.5" font-style="italic">−/−</tspan></text>
<circle cx="352.4" cy="436" r="5.4" fill="#1a1a1a"/>
<text x="366.4" y="440.9" font-size="14.5" text-anchor="start" ><tspan font-style="italic">Sla</tspan><tspan dy="-4.3" dx="0.8" font-size="11.5" letter-spacing="0.5" font-style="italic">−/−</tspan><tspan dy="4.3" font-size="3"> </tspan><tspan font-style="italic">Cbl</tspan><tspan dy="-4.3" dx="0.8" font-size="11.5" letter-spacing="0.5" font-style="italic">−/−</tspan></text>
<text x="170.5" y="468.3" font-size="14.5" text-anchor="middle" >DP</text>
<text x="463.5" y="468.3" font-size="14.5" text-anchor="middle" >SP</text>
<text x="120.3" y="487" font-size="14.5" text-anchor="middle" >RPMI</text>
<text x="221" y="487.3" font-size="14.5" text-anchor="middle" >Sucrose</text>
<text x="409.3" y="487.3" font-size="14.5" text-anchor="middle" >RPMI</text>
<text x="512.2" y="487.6" font-size="14.5" text-anchor="middle" >Sucrose</text>
<line x1="73.3" y1="494.8" x2="73.3" y2="632.2" stroke="#111" stroke-width="1.5" />
<line x1="70.3" y1="631.5" x2="169" y2="631.5" stroke="#111" stroke-width="1.5" />
<line x1="70.3" y1="631.5" x2="73.3" y2="631.5" stroke="#111" stroke-width="1.3" />
<text x="65.89999999999999" y="636.7" font-size="14.5" text-anchor="end" >0</text>
<line x1="70.3" y1="604.88" x2="73.3" y2="604.88" stroke="#111" stroke-width="1.3" />
<text x="65.89999999999999" y="610.08" font-size="14.5" text-anchor="end" >50</text>
<line x1="70.3" y1="578.26" x2="73.3" y2="578.26" stroke="#111" stroke-width="1.3" />
<text x="65.89999999999999" y="583.46" font-size="14.5" text-anchor="end" >100</text>
<line x1="70.3" y1="551.64" x2="73.3" y2="551.64" stroke="#111" stroke-width="1.3" />
<text x="65.89999999999999" y="556.84" font-size="14.5" text-anchor="end" >150</text>
<line x1="70.3" y1="525.02" x2="73.3" y2="525.02" stroke="#111" stroke-width="1.3" />
<text x="65.89999999999999" y="530.22" font-size="14.5" text-anchor="end" >200</text>
<line x1="70.3" y1="498.4" x2="73.3" y2="498.4" stroke="#111" stroke-width="1.3" />
<text x="65.89999999999999" y="503.59999999999997" font-size="14.5" text-anchor="end" >250</text>
<line x1="73.6" y1="631.5" x2="73.6" y2="634.5" stroke="#111" stroke-width="1.3" />
<line x1="103" y1="631.5" x2="103" y2="634.5" stroke="#111" stroke-width="1.3" />
<line x1="132.5" y1="631.5" x2="132.5" y2="634.5" stroke="#111" stroke-width="1.3" />
<line x1="162.2" y1="631.5" x2="162.2" y2="634.5" stroke="#111" stroke-width="1.3" />
<polyline points="73.6,586.8 103.0,592.6 132.5,584.1 162.2,576.9" fill="none" stroke="#000" stroke-width="2.1" stroke-linejoin="round"/>
<rect x="70.8" y="584.0" width="5.6" height="5.6" fill="#000"/>
<rect x="100.2" y="589.8" width="5.6" height="5.6" fill="#000"/>
<rect x="129.7" y="581.3" width="5.6" height="5.6" fill="#000"/>
<rect x="159.4" y="574.1" width="5.6" height="5.6" fill="#000"/>
<polyline points="73.6,596.1 103.0,600.1 132.5,595.6 162.2,592.6" fill="none" stroke="#000" stroke-width="2.1" stroke-linejoin="round"/>
<circle cx="73.6" cy="596.1" r="2.8" fill="#000"/>
<circle cx="103.0" cy="600.1" r="2.8" fill="#000"/>
<circle cx="132.5" cy="595.6" r="2.8" fill="#000"/>
<circle cx="162.2" cy="592.6" r="2.8" fill="#000"/>
<polyline points="73.6,611.3 103.0,609.4 132.5,603.3 162.2,601.7" fill="none" stroke="#000" stroke-width="2.1" stroke-linejoin="round"/>
<circle cx="73.6" cy="611.3" r="1.9" fill="#fff" stroke="#000" stroke-width="1.6"/>
<circle cx="103.0" cy="609.4" r="1.9" fill="#fff" stroke="#000" stroke-width="1.6"/>
<circle cx="132.5" cy="603.3" r="1.9" fill="#fff" stroke="#000" stroke-width="1.6"/>
<circle cx="162.2" cy="601.7" r="1.9" fill="#fff" stroke="#000" stroke-width="1.6"/>
<polyline points="73.6,622.4 103.0,619.3 132.5,616.9 162.2,606.7" fill="none" stroke="#000" stroke-width="2.1" stroke-linejoin="round"/>
<rect x="71.7" y="620.5" width="3.8" height="3.8" fill="#fff" stroke="#000" stroke-width="1.6"/>
<rect x="101.1" y="617.4" width="3.8" height="3.8" fill="#fff" stroke="#000" stroke-width="1.6"/>
<rect x="130.6" y="615.0" width="3.8" height="3.8" fill="#fff" stroke="#000" stroke-width="1.6"/>
<rect x="160.3" y="604.8" width="3.8" height="3.8" fill="#fff" stroke="#000" stroke-width="1.6"/>
<text x="73.8" y="651.2" font-size="14.5" text-anchor="middle" >0</text>
<text x="103.3" y="651.2" font-size="14.5" text-anchor="middle" >2</text>
<text x="132.8" y="651.2" font-size="14.5" text-anchor="middle" >4</text>
<text x="162.4" y="651.2" font-size="14.5" text-anchor="middle" >6</text>
<text x="120.6" y="671.8" font-size="14.5" text-anchor="middle" >Time (h)</text>
<text font-size="15.1" text-anchor="middle" transform="translate(23.8,564.6) rotate(-90)">CD3ε (geoMFI)</text>
<line x1="177.5" y1="494.8" x2="177.5" y2="632.2" stroke="#111" stroke-width="1.5" />
<line x1="174.5" y1="631.5" x2="272" y2="631.5" stroke="#111" stroke-width="1.5" />
<line x1="174.5" y1="631.5" x2="177.5" y2="631.5" stroke="#111" stroke-width="1.3" />
<line x1="174.5" y1="604.88" x2="177.5" y2="604.88" stroke="#111" stroke-width="1.3" />
<line x1="174.5" y1="578.26" x2="177.5" y2="578.26" stroke="#111" stroke-width="1.3" />
<line x1="174.5" y1="551.64" x2="177.5" y2="551.64" stroke="#111" stroke-width="1.3" />
<line x1="174.5" y1="525.02" x2="177.5" y2="525.02" stroke="#111" stroke-width="1.3" />
<line x1="174.5" y1="498.4" x2="177.5" y2="498.4" stroke="#111" stroke-width="1.3" />
<line x1="177.6" y1="631.5" x2="177.6" y2="634.5" stroke="#111" stroke-width="1.3" />
<line x1="206.7" y1="631.5" x2="206.7" y2="634.5" stroke="#111" stroke-width="1.3" />
<line x1="235.8" y1="631.5" x2="235.8" y2="634.5" stroke="#111" stroke-width="1.3" />
<line x1="265" y1="631.5" x2="265" y2="634.5" stroke="#111" stroke-width="1.3" />
<polyline points="177.6,598.5 206.7,550.8 235.8,544.2 265.0,544.7" fill="none" stroke="#000" stroke-width="2.1" stroke-linejoin="round"/>
<line x1="206.7" y1="554.8344" x2="206.7" y2="546.8484" stroke="#000" stroke-width="1.5" />
<line x1="204.1" y1="554.8344" x2="209.29999999999998" y2="554.8344" stroke="#000" stroke-width="1.5" />
<line x1="204.1" y1="546.8484" x2="209.29999999999998" y2="546.8484" stroke="#000" stroke-width="1.5" />
<line x1="235.8" y1="546.8484" x2="235.8" y2="541.5244" stroke="#000" stroke-width="1.5" />
<line x1="233.20000000000002" y1="546.8484" x2="238.4" y2="546.8484" stroke="#000" stroke-width="1.5" />
<line x1="233.20000000000002" y1="541.5244" x2="238.4" y2="541.5244" stroke="#000" stroke-width="1.5" />
<circle cx="177.6" cy="598.5" r="1.9" fill="#fff" stroke="#000" stroke-width="1.6"/>
<circle cx="206.7" cy="550.8" r="1.9" fill="#fff" stroke="#000" stroke-width="1.6"/>
<circle cx="235.8" cy="544.2" r="1.9" fill="#fff" stroke="#000" stroke-width="1.6"/>
<circle cx="265.0" cy="544.7" r="1.9" fill="#fff" stroke="#000" stroke-width="1.6"/>
<polyline points="177.6,621.9 206.7,601.7 235.8,598.5 265.0,596.4" fill="none" stroke="#000" stroke-width="2.1" stroke-linejoin="round"/>
<rect x="175.7" y="620.0" width="3.8" height="3.8" fill="#fff" stroke="#000" stroke-width="1.6"/>
<rect x="204.8" y="599.8" width="3.8" height="3.8" fill="#fff" stroke="#000" stroke-width="1.6"/>
<rect x="233.9" y="596.6" width="3.8" height="3.8" fill="#fff" stroke="#000" stroke-width="1.6"/>
<rect x="263.1" y="594.5" width="3.8" height="3.8" fill="#fff" stroke="#000" stroke-width="1.6"/>
<polyline points="177.6,595.8 206.7,518.1 235.8,512.2 265.0,511.4" fill="none" stroke="#000" stroke-width="2.1" stroke-linejoin="round"/>
<line x1="206.7" y1="522.8904" x2="206.7" y2="513.3072" stroke="#000" stroke-width="1.5" />
<line x1="204.1" y1="522.8904" x2="209.29999999999998" y2="522.8904" stroke="#000" stroke-width="1.5" />
<line x1="204.1" y1="513.3072" x2="209.29999999999998" y2="513.3072" stroke="#000" stroke-width="1.5" />
<line x1="235.8" y1="518.0988" x2="235.8" y2="506.38599999999997" stroke="#000" stroke-width="1.5" />
<line x1="233.20000000000002" y1="518.0988" x2="238.4" y2="518.0988" stroke="#000" stroke-width="1.5" />
<line x1="233.20000000000002" y1="506.38599999999997" x2="238.4" y2="506.38599999999997" stroke="#000" stroke-width="1.5" />
<line x1="265" y1="515.4368" x2="265" y2="507.45079999999996" stroke="#000" stroke-width="1.5" />
<line x1="262.4" y1="515.4368" x2="267.6" y2="515.4368" stroke="#000" stroke-width="1.5" />
<line x1="262.4" y1="507.45079999999996" x2="267.6" y2="507.45079999999996" stroke="#000" stroke-width="1.5" />
<circle cx="177.6" cy="595.8" r="2.8" fill="#000"/>
<circle cx="206.7" cy="518.1" r="2.8" fill="#000"/>
<circle cx="235.8" cy="512.2" r="2.8" fill="#000"/>
<circle cx="265.0" cy="511.4" r="2.8" fill="#000"/>
<polyline points="177.6,587.3 206.7,507.5 235.8,500.8 265.0,499.5" fill="none" stroke="#000" stroke-width="2.1" stroke-linejoin="round"/>
<rect x="174.8" y="584.5" width="5.6" height="5.6" fill="#000"/>
<rect x="203.9" y="504.7" width="5.6" height="5.6" fill="#000"/>
<rect x="233.0" y="498.0" width="5.6" height="5.6" fill="#000"/>
<rect x="262.2" y="496.7" width="5.6" height="5.6" fill="#000"/>
<text x="177.8" y="651.2" font-size="14.5" text-anchor="middle" >0</text>
<text x="207" y="651.2" font-size="14.5" text-anchor="middle" >2</text>
<text x="236" y="651.2" font-size="14.5" text-anchor="middle" >4</text>
<text x="265.2" y="651.2" font-size="14.5" text-anchor="middle" >6</text>
<text x="222" y="671.8" font-size="14.5" text-anchor="middle" >Time (h)</text>
<line x1="366.8" y1="494.8" x2="366.8" y2="632.2" stroke="#111" stroke-width="1.5" />
<line x1="363.8" y1="631.5" x2="461" y2="631.5" stroke="#111" stroke-width="1.5" />
<line x1="363.8" y1="631.5" x2="366.8" y2="631.5" stroke="#111" stroke-width="1.3" />
<text x="359.40000000000003" y="636.7" font-size="14.5" text-anchor="end" >0</text>
<line x1="363.8" y1="604.88" x2="366.8" y2="604.88" stroke="#111" stroke-width="1.3" />
<text x="359.40000000000003" y="610.08" font-size="14.5" text-anchor="end" >300</text>
<line x1="363.8" y1="578.26" x2="366.8" y2="578.26" stroke="#111" stroke-width="1.3" />
<text x="359.40000000000003" y="583.46" font-size="14.5" text-anchor="end" >600</text>
<line x1="363.8" y1="551.64" x2="366.8" y2="551.64" stroke="#111" stroke-width="1.3" />
<text x="359.40000000000003" y="556.84" font-size="14.5" text-anchor="end" >900</text>
<line x1="363.8" y1="525.02" x2="366.8" y2="525.02" stroke="#111" stroke-width="1.3" />
<text x="359.40000000000003" y="530.22" font-size="14.5" text-anchor="end" >1,200</text>
<line x1="363.8" y1="498.4" x2="366.8" y2="498.4" stroke="#111" stroke-width="1.3" />
<text x="359.40000000000003" y="503.59999999999997" font-size="14.5" text-anchor="end" >1,500</text>
<line x1="367.4" y1="631.5" x2="367.4" y2="634.5" stroke="#111" stroke-width="1.3" />
<line x1="396" y1="631.5" x2="396" y2="634.5" stroke="#111" stroke-width="1.3" />
<line x1="424.2" y1="631.5" x2="424.2" y2="634.5" stroke="#111" stroke-width="1.3" />
<line x1="452.5" y1="631.5" x2="452.5" y2="634.5" stroke="#111" stroke-width="1.3" />
<polyline points="367.4,543.7 396.0,548.9 424.2,552.3 452.5,555.9" fill="none" stroke="#000" stroke-width="2.1" stroke-linejoin="round"/>
<rect x="364.6" y="540.9" width="5.6" height="5.6" fill="#000"/>
<rect x="393.2" y="546.1" width="5.6" height="5.6" fill="#000"/>
<rect x="421.4" y="549.5" width="5.6" height="5.6" fill="#000"/>
<rect x="449.7" y="553.1" width="5.6" height="5.6" fill="#000"/>
<polyline points="367.4,555.0 396.0,564.2 424.2,563.5 452.5,564.8" fill="none" stroke="#000" stroke-width="2.1" stroke-linejoin="round"/>
<rect x="365.5" y="553.1" width="3.8" height="3.8" fill="#fff" stroke="#000" stroke-width="1.6"/>
<rect x="394.1" y="562.3" width="3.8" height="3.8" fill="#fff" stroke="#000" stroke-width="1.6"/>
<rect x="422.3" y="561.6" width="3.8" height="3.8" fill="#fff" stroke="#000" stroke-width="1.6"/>
<rect x="450.6" y="562.9" width="3.8" height="3.8" fill="#fff" stroke="#000" stroke-width="1.6"/>
<polyline points="367.4,573.4 396.0,575.5 424.2,574.9 452.5,578.5" fill="none" stroke="#000" stroke-width="2.1" stroke-linejoin="round"/>
<circle cx="367.4" cy="573.4" r="2.8" fill="#000"/>
<circle cx="396.0" cy="575.5" r="2.8" fill="#000"/>
<circle cx="424.2" cy="574.9" r="2.8" fill="#000"/>
<circle cx="452.5" cy="578.5" r="2.8" fill="#000"/>
<polyline points="367.4,575.5 396.0,578.9 424.2,576.9 452.5,583.1" fill="none" stroke="#000" stroke-width="2.1" stroke-linejoin="round"/>
<circle cx="367.4" cy="575.5" r="1.9" fill="#fff" stroke="#000" stroke-width="1.6"/>
<circle cx="396.0" cy="578.9" r="1.9" fill="#fff" stroke="#000" stroke-width="1.6"/>
<circle cx="424.2" cy="576.9" r="1.9" fill="#fff" stroke="#000" stroke-width="1.6"/>
<circle cx="452.5" cy="583.1" r="1.9" fill="#fff" stroke="#000" stroke-width="1.6"/>
<text x="367.2" y="651.2" font-size="14.5" text-anchor="middle" >0</text>
<text x="396.4" y="651.2" font-size="14.5" text-anchor="middle" >2</text>
<text x="425" y="651.2" font-size="14.5" text-anchor="middle" >4</text>
<text x="455" y="651.2" font-size="14.5" text-anchor="middle" >6</text>
<text x="415" y="671.8" font-size="14.5" text-anchor="middle" >Time (h)</text>
<text font-size="15.1" text-anchor="middle" transform="translate(308.6,564.6) rotate(-90)">CD3ε (geoMFI)</text>
<line x1="470.7" y1="494.8" x2="470.7" y2="632.2" stroke="#111" stroke-width="1.5" />
<line x1="467.7" y1="631.5" x2="565" y2="631.5" stroke="#111" stroke-width="1.5" />
<line x1="467.7" y1="631.5" x2="470.7" y2="631.5" stroke="#111" stroke-width="1.3" />
<line x1="467.7" y1="604.88" x2="470.7" y2="604.88" stroke="#111" stroke-width="1.3" />
<line x1="467.7" y1="578.26" x2="470.7" y2="578.26" stroke="#111" stroke-width="1.3" />
<line x1="467.7" y1="551.64" x2="470.7" y2="551.64" stroke="#111" stroke-width="1.3" />
<line x1="467.7" y1="525.02" x2="470.7" y2="525.02" stroke="#111" stroke-width="1.3" />
<line x1="467.7" y1="498.4" x2="470.7" y2="498.4" stroke="#111" stroke-width="1.3" />
<line x1="470.9" y1="631.5" x2="470.9" y2="634.5" stroke="#111" stroke-width="1.3" />
<line x1="499.8" y1="631.5" x2="499.8" y2="634.5" stroke="#111" stroke-width="1.3" />
<line x1="528" y1="631.5" x2="528" y2="634.5" stroke="#111" stroke-width="1.3" />
<line x1="556.2" y1="631.5" x2="556.2" y2="634.5" stroke="#111" stroke-width="1.3" />
<polyline points="470.9,535.7 499.8,521.3 528.0,522.2 556.2,531.1" fill="none" stroke="#000" stroke-width="2.1" stroke-linejoin="round"/>
<rect x="468.1" y="532.9" width="5.6" height="5.6" fill="#000"/>
<rect x="497.0" y="518.5" width="5.6" height="5.6" fill="#000"/>
<rect x="525.2" y="519.4" width="5.6" height="5.6" fill="#000"/>
<rect x="553.4" y="528.3" width="5.6" height="5.6" fill="#000"/>
<polyline points="470.9,577.3 499.8,555.9 528.0,552.3 556.2,554.7" fill="none" stroke="#000" stroke-width="2.1" stroke-linejoin="round"/>
<line x1="528" y1="556.0766666666666" x2="528" y2="548.5343333333333" stroke="#000" stroke-width="1.5" />
<line x1="525.4" y1="556.0766666666666" x2="530.6" y2="556.0766666666666" stroke="#000" stroke-width="1.5" />
<line x1="525.4" y1="548.5343333333333" x2="530.6" y2="548.5343333333333" stroke="#000" stroke-width="1.5" />
<line x1="556.2" y1="559.1823333333333" x2="556.2" y2="550.309" stroke="#000" stroke-width="1.5" />
<line x1="553.6" y1="559.1823333333333" x2="558.8000000000001" y2="559.1823333333333" stroke="#000" stroke-width="1.5" />
<line x1="553.6" y1="550.309" x2="558.8000000000001" y2="550.309" stroke="#000" stroke-width="1.5" />
<circle cx="470.9" cy="577.3" r="1.9" fill="#fff" stroke="#000" stroke-width="1.6"/>
<circle cx="499.8" cy="555.9" r="1.9" fill="#fff" stroke="#000" stroke-width="1.6"/>
<circle cx="528.0" cy="552.3" r="1.9" fill="#fff" stroke="#000" stroke-width="1.6"/>
<circle cx="556.2" cy="554.7" r="1.9" fill="#fff" stroke="#000" stroke-width="1.6"/>
<polyline points="470.9,574.9 499.8,555.9 528.0,551.9 556.2,547.4" fill="none" stroke="#000" stroke-width="2.1" stroke-linejoin="round"/>
<circle cx="470.9" cy="574.9" r="2.8" fill="#000"/>
<circle cx="499.8" cy="555.9" r="2.8" fill="#000"/>
<circle cx="528.0" cy="551.9" r="2.8" fill="#000"/>
<circle cx="556.2" cy="547.4" r="2.8" fill="#000"/>
<polyline points="499.8,555.9" fill="none" stroke="#000" stroke-width="2.1" stroke-linejoin="round"/>
<rect x="497.0" y="553.1" width="5.6" height="5.6" fill="#000"/>
<polyline points="470.9,554.4 499.8,544.5 528.0,545.5 556.2,547.4" fill="none" stroke="#000" stroke-width="2.1" stroke-linejoin="round"/>
<rect x="469.0" y="552.5" width="3.8" height="3.8" fill="#fff" stroke="#000" stroke-width="1.6"/>
<rect x="497.9" y="542.6" width="3.8" height="3.8" fill="#fff" stroke="#000" stroke-width="1.6"/>
<rect x="526.1" y="543.6" width="3.8" height="3.8" fill="#fff" stroke="#000" stroke-width="1.6"/>
<rect x="554.3" y="545.5" width="3.8" height="3.8" fill="#fff" stroke="#000" stroke-width="1.6"/>
<polyline points="556.2,547.4" fill="none" stroke="#000" stroke-width="2.1" stroke-linejoin="round"/>
<rect x="553.4" y="544.6" width="5.6" height="5.6" fill="#000"/>
<text x="471.6" y="651.2" font-size="14.5" text-anchor="middle" >0</text>
<text x="500.2" y="651.2" font-size="14.5" text-anchor="middle" >2</text>
<text x="529" y="651.2" font-size="14.5" text-anchor="middle" >4</text>
<text x="558.6" y="651.2" font-size="14.5" text-anchor="middle" >6</text>
<text x="517.5" y="671.8" font-size="14.5" text-anchor="middle" >Time (h)</text>
</svg>
</body></html>
